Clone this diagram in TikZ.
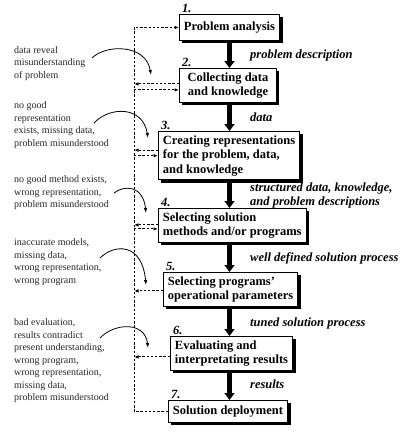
\documentclass[tikz,border=0pt]{standalone}
\usepackage{fontspec}
\setmainfont{Liberation Serif}
\usetikzlibrary{arrows.meta}
\usetikzlibrary{positioning,shadows}

\begin{document}
\begin{tikzpicture} [x=1pt,y=-1pt,
    stage/.style={draw,line width=0.9pt,fill=white,anchor=north west,align=left,
      font=\fontsize{12.5}{14.5}\selectfont\bfseries,inner xsep=4.5pt,inner ysep=4pt,
      drop shadow={shadow xshift=3pt,shadow yshift=-3pt,opacity=1,fill=black}},
    num/.style={font=\fontsize{12.5}{14}\selectfont\bfseries\itshape,inner sep=0pt},
    flow/.style={font=\fontsize{12.5}{14}\selectfont\bfseries\itshape,anchor=west,inner sep=0pt,align=left},
    note/.style={font=\fontsize{10}{12.5}\selectfont,text=black!85,anchor=north west,align=left,inner sep=0pt},
    bigarrow/.style={line width=4.5pt,-{Triangle[width=10pt,length=7pt]}},
    fb/.style={line width=1pt,dash pattern=on 2.4pt off 1.8pt},
    fbtip/.style={-{Latex[length=4.5pt,width=3.5pt]}},
    remark/.style={line width=0.8pt,-{Latex[length=5pt,width=3.5pt]}}]

  \useasboundingbox (0,0) rectangle (414,437);

  % the seven steps
  \node[stage] (b1) [minimum width=97pt,minimum height=26pt,align=center] at (179,14) {Problem analysis};
  \node[stage] (b2) [minimum width=97pt,align=center] at (179,68) {Collecting data\\and knowledge};
  \node[stage] (b3) at (158,131) {Creating representations\\for the problem, data,\\and knowledge};
  \node[stage] (b4) at (158,208) {Selecting solution\\methods and/or programs};
  \node[stage] (b5) at (163,272) {Selecting programs'\\operational parameters};
  \node[stage] (b6) at (170,336) {Evaluating and\\interpretating results};
  \node[stage] (b7) [minimum height=22pt] at (168,400) {Solution deployment};

  \foreach \i in {1,...,7}
    \node[num] (k\i) [above right=1pt and 3pt of b\i.north west] {\i.};

  % what flows from step to step
  \node[flow] (d1) at (250,55) {problem description};
  \node[flow] (d2) at (250,117) {data};
  \node[flow] (d3) at (250,195) {structured data, knowledge,\\and problem descriptions};
  \node[flow] (d4) at (250,258) {well defined solution process};
  \node[flow] (d5) at (250,323) {tuned solution process};
  \node[flow] (d6) at (250,384) {results};

  \coordinate (spine) at (b1.south);
  \foreach \a/\b in {1/2,2/3,3/4,4/5,5/6,6/7}
    \draw[bigarrow] (spine |- b\a.south) -- (spine |- b\b.north);

  % feedback
  \coordinate (rail) at (134,0);
  \draw[fb,fbtip] (b7.west) -- (rail |- b7.west) -- (rail |- b1.west) -- (b1.west);

  \coordinate (o2) at ([yshift=1.5pt]b2.west);
  \coordinate (i2) at ([yshift=-4.5pt]b2.west);
  \coordinate (o3) at ([yshift=5.5pt]b3.west);
  \coordinate (i3) at (b3.west);
  \coordinate (o4) at ([yshift=0.5pt]b4.west);
  \coordinate (i4) at ([yshift=-3.5pt]b4.west);
  \coordinate (o5) at ([yshift=-1.5pt]b5.west);
  \coordinate (o6) at ([yshift=-3.5pt]b6.west);

  \foreach \f in {o2,o3,o4,o5,o6}
    \draw[fb,fbtip] (\f) -- (\f -| rail);
  \foreach \f in {i2,i3,i4}
    \draw[fb,fbtip] (\f -| rail) -- (\f);

  % reasons for going back
  \node[note] (n1) at (14,46) {data reveal\\misunderstanding\\of problem};
  \node[note] (n2) at (14,101.5) {no good\\representation\\exists, missing data,\\problem misunderstood};
  \node[note] (n3) at (14,175.5) {no good method exists,\\wrong representation,\\problem misunderstood};
  \node[note] (n4) at (14,238.5) {inaccurate models,\\missing data,\\wrong representation,\\wrong program};
  \node[note] (n5) at (14,318.5) {bad evaluation,\\results contradict\\present understanding,\\wrong program,\\wrong representation,\\missing data,\\problem misunderstood};

  \coordinate (s1) at (92,58);   \coordinate (t1) at (151,75);
  \coordinate (s2) at (94,123);  \coordinate (t2) at (148,138);
  \coordinate (s3) at (114,193); \coordinate (t3) at (146,213);
  \coordinate (s4) at (100,258); \coordinate (t4) at (146,285);
  \coordinate (s5) at (100,338); \coordinate (t5) at (148,348);

  \draw[remark] (s1) .. controls (106,44) and (146,44) .. (t1);
  \draw[remark] (s2) .. controls (110,106) and (143,106) .. (t2);
  \draw[remark] (s3) .. controls (124,185) and (143,185) .. (t3);
  \draw[remark] (s4) .. controls (114,244) and (142,242) .. (t4);
  \draw[remark] (s5) .. controls (114,323) and (145,321) .. (t5);

\end{tikzpicture}
\end{document}
